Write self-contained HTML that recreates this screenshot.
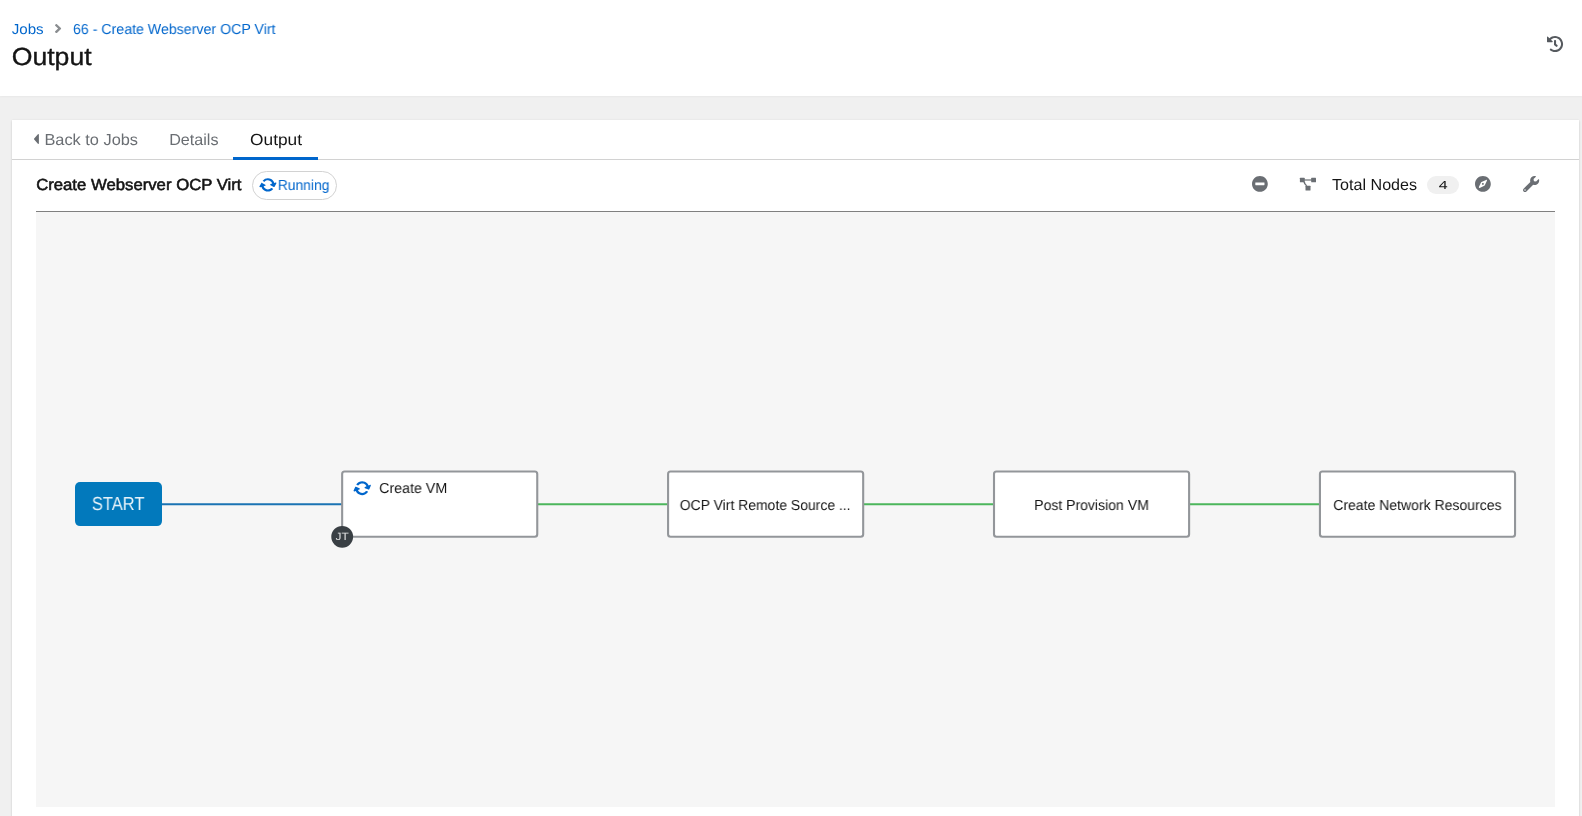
<!DOCTYPE html>
<html lang="en">
<head>
<meta charset="utf-8">
<title>Output</title>
<style>
*{box-sizing:border-box;margin:0;padding:0}
html,body{width:1582px;height:816px;overflow:hidden;background:#f0f0f0;font-family:"Liberation Sans",sans-serif;color:#151515}
#header{position:absolute;left:0;top:0;width:1582px;height:96px;background:#fff;box-shadow:0 1px 2px rgba(3,3,3,.035)}
#card{position:absolute;left:12px;top:120px;width:1567px;height:700px;background:#fff;box-shadow:0 1px 2px 0 rgba(3,3,3,.12),0 0 2px 0 rgba(3,3,3,.06)}
#tabline{position:absolute;left:12px;top:159px;width:1567px;height:1px;background:#d2d2d2}
#tabactive{position:absolute;left:233px;top:157px;width:85px;height:3px;background:#0066cc}
#pill{position:absolute;left:252px;top:171px;width:85px;height:29px;border:1px solid #d2d2d2;border-radius:15px;background:#fff}
#tline{position:absolute;left:36px;top:211px;width:1519px;height:1px;background:#808080}
#canvas{position:absolute;left:36px;top:212px;width:1519px;height:595px;background:#f6f6f6}
#badge{position:absolute;left:1427px;top:176px;width:32px;height:18px;border-radius:9px;background:#f0f0f0}
#graph{position:absolute;left:0;top:0;width:1582px;height:816px}
h1{font-weight:normal;font-size:inherit}
.tx{position:absolute;display:inline-block;white-space:nowrap;transform-origin:0 0;will-change:transform;text-rendering:geometricPrecision}
.ico{position:absolute;display:block;overflow:visible}
</style>
</head>
<body>
<div id="header">
  <nav id="crumbs">
    <span id="t_jobs" class="tx" style="left:11px;top:23px;font-size:14.5px;line-height:14.5px;color:#0066cc;transform:translate(0.75px,0.00px) scaleX(1.0425)">Jobs</span>
    <svg class="ico" style="left:54.70px;top:24.40px;width:6.20px;height:9.10px" viewBox="24.75 95.95 206.59 320.10" preserveAspectRatio="none" aria-hidden="true"><path fill="#8a8d90" d="M224.300 273l-136 136c-9.400 9.400-24.600 9.400-33.900 0l-22.600-22.600c-9.400-9.400-9.400-24.600 0-33.900l96.400-96.400-96.400-96.400c-9.400-9.400-9.400-24.600 0-33.900L54.300 103c9.400-9.400 24.600-9.400 33.900 0l136 136c9.500 9.400 9.500 24.600.1 34z"/></svg>
    <span id="t_crumb" class="tx" style="left:72px;top:23px;font-size:14.5px;line-height:14.5px;color:#0066cc;transform:translate(0.95px,0.00px) scaleX(0.9780)">66 - Create Webserver OCP Virt</span>
  </nav>
  <h1><span id="t_title" class="tx" style="left:11px;top:46px;font-size:24.7px;line-height:24.7px;-webkit-text-stroke:0.35px #151515;color:#151515;transform:translate(0.69px,0.00px) scaleX(1.0785)">Output</span></h1>
  <svg class="ico" style="left:1547.00px;top:35.80px;width:16.10px;height:16.10px" viewBox="8.00 8.00 496.00 496.00" preserveAspectRatio="none" aria-hidden="true"><path fill="#565a5f" d="M504 255.531c.253 136.640-111.180 248.372-247.820 248.468-59.015.042-113.223-20.530-155.822-54.911-11.077-8.940-11.905-25.541-1.839-35.607l11.267-11.267c8.609-8.609 22.353-9.551 31.891-1.984C173.062 425.135 212.781 440 256 440c101.705 0 184-82.311 184-184 0-101.705-82.311-184-184-184-48.814 0-93.149 18.969-126.068 49.932l50.754 50.754c10.080 10.080 2.941 27.314-11.313 27.314H24c-8.837 0-16-7.163-16-16V38.627c0-14.254 17.234-21.393 27.314-11.314l49.372 49.372C129.209 34.136 189.552 8 256 8c136.810 0 247.747 110.780 248 247.531zm-180.912 78.784l9.823-12.630c8.138-10.463 6.253-25.542-4.210-33.679L288 256.349V152c0-13.255-10.745-24-24-24h-16c-13.255 0-24 10.745-24 24v135.651l65.409 50.874c10.463 8.137 25.541 6.253 33.679-4.210z"/></svg>
</div>
<div id="card"></div>
<div id="tabs">
  <svg class="ico" style="left:33.70px;top:134.20px;width:4.90px;height:9.90px" viewBox="23.34 107.30 168.66 297.40" preserveAspectRatio="none" aria-hidden="true"><path fill="#6a6e73" d="M192 127.338v257.324c0 17.818-21.543 26.741-34.142 14.142L29.196 270.142c-7.810-7.810-7.810-20.474 0-28.284l128.662-128.662c12.599-12.600 34.142-3.676 34.142 14.142z"/></svg>
  <span id="t_back" class="tx" style="left:44px;top:133px;font-size:16.0px;line-height:16.0px;color:#6a6e73;transform:translate(0.44px,0.00px) scaleX(1.0216)">Back to Jobs</span>
  <span id="t_details" class="tx" style="left:169px;top:133px;font-size:16.0px;line-height:16.0px;color:#6a6e73;transform:translate(0.16px,0.00px) scaleX(1.0085)">Details</span>
  <span id="t_output" class="tx" style="left:250px;top:133px;font-size:16.0px;line-height:16.0px;color:#151515;transform:translate(0.10px,0.00px) scaleX(1.0809)">Output</span>
</div>
<div id="tabline"></div>
<div id="tabactive"></div>
<div id="toolbar">
  <span id="t_wf" class="tx" style="left:36px;top:178px;font-size:16.0px;line-height:16.0px;-webkit-text-stroke:0.55px #151515;color:#151515;transform:translate(0.13px,0.00px) scaleX(1.0450)">Create Webserver OCP Virt</span>
  <div id="pill"></div>
  <svg class="ico" style="left:260.50px;top:178.00px;width:13.8px;height:13.8px;transform:rotate(29deg)" viewBox="0 0 512 512" aria-hidden="true"><path fill="#0066cc" d="M370.720 133.280C339.458 104.008 298.888 87.962 255.848 88c-77.458.068-144.328 53.178-162.791 126.850-1.344 5.363-6.122 9.150-11.651 9.150H24.103c-7.498 0-13.194-6.807-11.807-14.176C33.933 94.924 134.813 8 256 8c66.448 0 126.791 26.136 171.315 68.685L463.030 40.970C478.149 25.851 504 36.559 504 57.941V192c0 13.255-10.745 24-24 24H345.941c-21.382 0-32.090-25.851-16.971-40.971l41.750-41.749zM32 296h134.059c21.382 0 32.090 25.851 16.971 40.971l-41.750 41.750c31.262 29.273 71.835 45.319 114.876 45.280 77.418-.070 144.315-53.144 162.787-126.849 1.344-5.363 6.122-9.150 11.651-9.150h57.304c7.498 0 13.194 6.807 11.807 14.176C478.067 417.076 377.187 504 256 504c-66.448 0-126.791-26.136-171.315-68.685L48.970 471.030C33.851 486.149 8 475.441 8 454.059V320c0-13.255 10.745-24 24-24z"/></svg>
  <span id="t_run" class="tx" style="left:277px;top:179px;font-size:14.5px;line-height:14.5px;color:#0066cc;transform:translate(0.79px,0.00px) scaleX(0.9550)">Running</span>
  <svg class="ico" style="left:1252.10px;top:176.10px;width:15.80px;height:15.80px" viewBox="8.00 8.00 496.00 496.00" preserveAspectRatio="none" aria-hidden="true"><path fill="#6a6e73" d="M256 8C119 8 8 119 8 256s111 248 248 248 248-111 248-248S393 8 256 8zM124 296c-6.600 0-12-5.400-12-12v-56c0-6.600 5.400-12 12-12h264c6.600 0 12 5.400 12 12v56c0 6.600-5.400 12-12 12H124z"/></svg>
  <svg class="ico" style="left:1298px;top:175px;width:20px;height:18px" viewBox="1298 175 20 18" aria-hidden="true"><g fill="#6a6e73"><rect x="1299.9" y="177.7" width="4.8" height="4.6" rx="0.5"/><rect x="1311.2" y="177.7" width="4.8" height="4.6" rx="0.5"/><rect x="1305.5" y="185.7" width="5" height="4.8" rx="0.5"/><rect x="1304" y="179.3" width="8" height="1.4" opacity="0.85"/><path d="M1303.4 182 L1304.8 181.4 Q1305.2 183.8 1307.2 185.2 L1306.2 186.2 Q1303.8 184.6 1303.4 182 Z"/></g></svg>
  <span id="t_total" class="tx" style="left:1332px;top:178px;font-size:16.0px;line-height:16.0px;color:#151515;transform:translate(0.06px,0.00px) scaleX(1.0060)">Total Nodes</span>
  <div id="badge"></div>
  <span id="t_four" class="tx" style="left:1438px;top:180px;font-size:11.8px;line-height:11.8px;color:#151515;transform:translate(0.65px,0.02px) scaleX(1.3543)">4</span>
  <svg class="ico" style="left:1475.00px;top:176.10px;width:15.80px;height:15.80px" viewBox="0.00 8.00 496.00 496.00" preserveAspectRatio="none" aria-hidden="true"><path fill="#6a6e73" d="M225.380 233.370c-12.500 12.500-12.500 32.760 0 45.250 12.490 12.500 32.760 12.500 45.250 0 12.500-12.500 12.500-32.760 0-45.250-12.500-12.490-32.760-12.490-45.250 0zM248 8C111.030 8 0 119.030 0 256s111.030 248 248 248 248-111.030 248-248S384.970 8 248 8zm126.140 148.050L308.170 300.400a31.938 31.938 0 0 1-15.770 15.770l-144.340 65.970c-16.650 7.610-33.810-9.550-26.200-26.200l65.980-144.350a31.938 31.938 0 0 1 15.770-15.770l144.340-65.970c16.650-7.600 33.800 9.550 26.190 26.200z"/></svg>
  <svg class="ico" style="left:1522.60px;top:175.50px;width:16.20px;height:16.10px" viewBox="-0.00 0.00 512.00 512.00" preserveAspectRatio="none" aria-hidden="true"><path fill="#6a6e73" d="M507.730 109.100c-2.240-9.030-13.540-12.090-20.120-5.510l-74.360 74.360-67.880-11.310-11.310-67.880 74.360-74.360c6.620-6.620 3.430-17.900-5.660-20.160-47.380-11.740-99.550.91-136.580 37.930-39.640 39.640-50.550 97.100-34.050 147.200L18.740 402.760c-24.990 24.990-24.990 65.510 0 90.500 24.990 24.990 65.510 24.990 90.500 0l213.210-213.210c50.120 16.710 107.470 5.680 147.370-34.220 37.070-37.070 49.700-89.320 37.910-136.730zM64 472c-13.250 0-24-10.750-24-24 0-13.260 10.750-24 24-24s24 10.740 24 24c0 13.250-10.750 24-24 24z"/></svg>
</div>
<div id="tline"></div>
<div id="canvas"></div>
<svg id="graph" viewBox="0 0 1582 816" aria-hidden="true">
  <line x1="161" y1="504.2" x2="342.15" y2="504.2" stroke="#1a73b3" stroke-width="2"/><line x1="537.25" y1="504.3" x2="668.08" y2="504.3" stroke="#4cb65c" stroke-width="2"/><line x1="863.18" y1="504.3" x2="994.01" y2="504.3" stroke="#4cb65c" stroke-width="2"/><line x1="1189.11" y1="504.3" x2="1319.94" y2="504.3" stroke="#4cb65c" stroke-width="2"/>
  <rect x="75" y="482" width="87" height="44.1" rx="5" ry="5" fill="#0279bc"/>
  <rect x="342.15" y="471.5" width="195.1" height="65.3" rx="2.5" ry="2.5" fill="#ffffff" stroke="#93969a" stroke-width="2.1"/><rect x="668.08" y="471.5" width="195.1" height="65.3" rx="2.5" ry="2.5" fill="#ffffff" stroke="#93969a" stroke-width="2.1"/><rect x="994.01" y="471.5" width="195.1" height="65.3" rx="2.5" ry="2.5" fill="#ffffff" stroke="#93969a" stroke-width="2.1"/><rect x="1319.94" y="471.5" width="195.1" height="65.3" rx="2.5" ry="2.5" fill="#ffffff" stroke="#93969a" stroke-width="2.1"/>
  <circle cx="342.2" cy="536.8" r="10.9" fill="#393f44"/>
</svg>
<svg class="ico" style="left:354.60px;top:481.20px;width:14.4px;height:14.4px;transform:rotate(23deg)" viewBox="0 0 512 512" aria-hidden="true"><path fill="#0066cc" d="M370.720 133.280C339.458 104.008 298.888 87.962 255.848 88c-77.458.068-144.328 53.178-162.791 126.850-1.344 5.363-6.122 9.150-11.651 9.150H24.103c-7.498 0-13.194-6.807-11.807-14.176C33.933 94.924 134.813 8 256 8c66.448 0 126.791 26.136 171.315 68.685L463.030 40.970C478.149 25.851 504 36.559 504 57.941V192c0 13.255-10.745 24-24 24H345.941c-21.382 0-32.090-25.851-16.971-40.971l41.750-41.749zM32 296h134.059c21.382 0 32.090 25.851 16.971 40.971l-41.750 41.750c31.262 29.273 71.835 45.319 114.876 45.280 77.418-.070 144.315-53.144 162.787-126.849 1.344-5.363 6.122-9.150 11.651-9.150h57.304c7.498 0 13.194 6.807 11.807 14.176C478.067 417.076 377.187 504 256 504c-66.448 0-126.791-26.136-171.315-68.685L48.970 471.030C33.851 486.149 8 475.441 8 454.059V320c0-13.255 10.745-24 24-24z"/></svg>
<span id="t_start" class="tx" style="left:91px;top:496px;font-size:18.9px;line-height:18.9px;color:rgba(255,255,255,.9);transform:translate(0.87px,0.00px) scaleX(0.8737)">START</span>
<span id="t_n1" class="tx" style="left:379px;top:482px;font-size:14.5px;line-height:14.5px;color:#151515;transform:translate(0.15px,0.00px) scaleX(0.9822)">Create VM</span>
<span id="t_jt" class="tx" style="left:335px;top:532px;font-size:10.5px;line-height:10.5px;color:rgba(255,255,255,.85);transform:translate(0.51px,0.02px) scaleX(1.1294)">JT</span>
<span id="t_n2" class="tx" style="left:679px;top:499px;font-size:14.5px;line-height:14.5px;color:#151515;transform:translate(0.76px,0.00px) scaleX(0.9618)">OCP Virt Remote Source ...</span>
<span id="t_n3" class="tx" style="left:1034px;top:499px;font-size:14.5px;line-height:14.5px;color:#151515;transform:translate(0.17px,0.00px) scaleX(0.9676)">Post Provision VM</span>
<span id="t_n4" class="tx" style="left:1333px;top:499px;font-size:14.5px;line-height:14.5px;color:#151515;transform:translate(0.26px,0.00px) scaleX(0.9668)">Create Network Resources</span>
</body>
</html>
